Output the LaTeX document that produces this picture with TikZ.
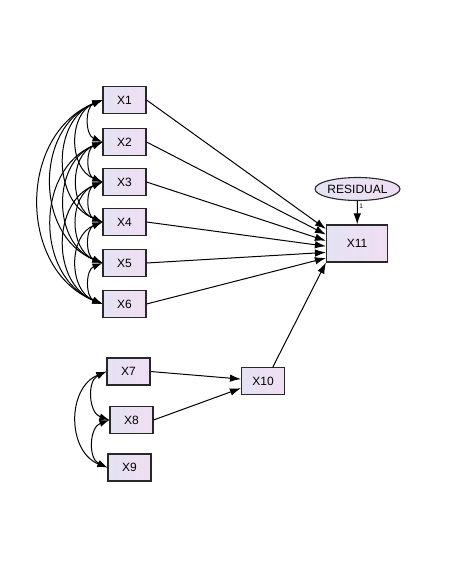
\documentclass[tikz,border=0pt]{standalone}
\usepackage{fontspec}
\setmainfont{Liberation Sans}
\usetikzlibrary{arrows.meta,shapes.geometric}

\definecolor{boxleft}{RGB}{229,227,243}
\definecolor{boxright}{RGB}{240,222,243}
\definecolor{boxline}{RGB}{40,40,40}

\begin{document}
\begin{tikzpicture}[x=1pt, y=-1pt,
    var/.style={draw=boxline, line width=1.1pt, left color=boxleft, right color=boxright,
        minimum width=43pt, minimum height=27pt, inner sep=0pt, font=\fontsize{12}{14}\selectfont},
    err/.style={ellipse, draw=boxline, line width=1.1pt, left color=boxleft, right color=boxright,
        minimum width=72pt, minimum height=23pt, inner sep=0pt, font=\fontsize{12}{14}\selectfont},
    path/.style={line width=1pt, -{Latex[length=11pt,width=7.5pt]}},
    cov/.style={line width=1pt, {Latex[length=10pt,width=7pt]}-{Latex[length=10pt,width=7pt]}, bend right=68, looseness=1.15}]

    \useasboundingbox (0,0) rectangle (474,578);

    \node[var] (x1) at (124.5,100) {X1};
    \node[var] (x2) at (124.5,142) {X2};
    \node[var] (x3) at (124.5,182) {X3};
    \node[var] (x4) at (124.5,222) {X4};
    \node[var] (x5) at (124.5,263) {X5};
    \node[var] (x6) at (124.5,304) {X6};

    \node[var] (x7) at (128.5,371.5) {X7};
    \node[var] (x8) at (131.5,420) {X8};
    \node[var] (x9) at (129.5,467.5) {X9};
    \node[var] (x10) at (263,381) {X10};

    \node[var, minimum width=61pt, minimum height=37pt] (x11) at (357,243.5) {X11};
    \node[err] (res) at (357.5,189) {RESIDUAL};

    % paths into X11
    \draw[path] (x1.east) -- (x11.155);
    \draw[path] (x2.east) -- (x11.164);
    \draw[path] (x3.east) -- (x11.175);
    \draw[path] (x4.east) -- (x11.185);
    \draw[path] (x5.east) -- (x11.196);
    \draw[path] (x6.east) -- (x11.205);
    \draw[path] (x10.55) -- (x11.south west);
    \draw[path] (res) -- node[pos=0.22, right, inner sep=1.5pt, font=\fontsize{6.5}{7}\selectfont] {1} (x11);

    % paths into X10
    \draw[path] (x7.east) -- (x10.175);
    \draw[path] (x8.east) -- (x10.198);

    % covariances X1-X6
    \draw[cov] (x1.west) to (x2.west);
    \draw[cov] (x1.west) to (x3.west);
    \draw[cov] (x1.west) to (x4.west);
    \draw[cov] (x1.west) to (x5.west);
    \draw[cov] (x1.west) to (x6.west);
    \draw[cov] (x2.west) to (x3.west);
    \draw[cov] (x2.west) to (x4.west);
    \draw[cov] (x2.west) to (x5.west);
    \draw[cov] (x2.west) to (x6.west);
    \draw[cov] (x3.west) to (x4.west);
    \draw[cov] (x3.west) to (x5.west);
    \draw[cov] (x3.west) to (x6.west);
    \draw[cov] (x4.west) to (x5.west);
    \draw[cov] (x4.west) to (x6.west);
    \draw[cov] (x5.west) to (x6.west);

    % covariances X7-X9
    \draw[cov] (x7.west) to (x8.west);
    \draw[cov] (x7.west) to (x9.west);
    \draw[cov] (x8.west) to (x9.west);

\end{tikzpicture}
\end{document}
